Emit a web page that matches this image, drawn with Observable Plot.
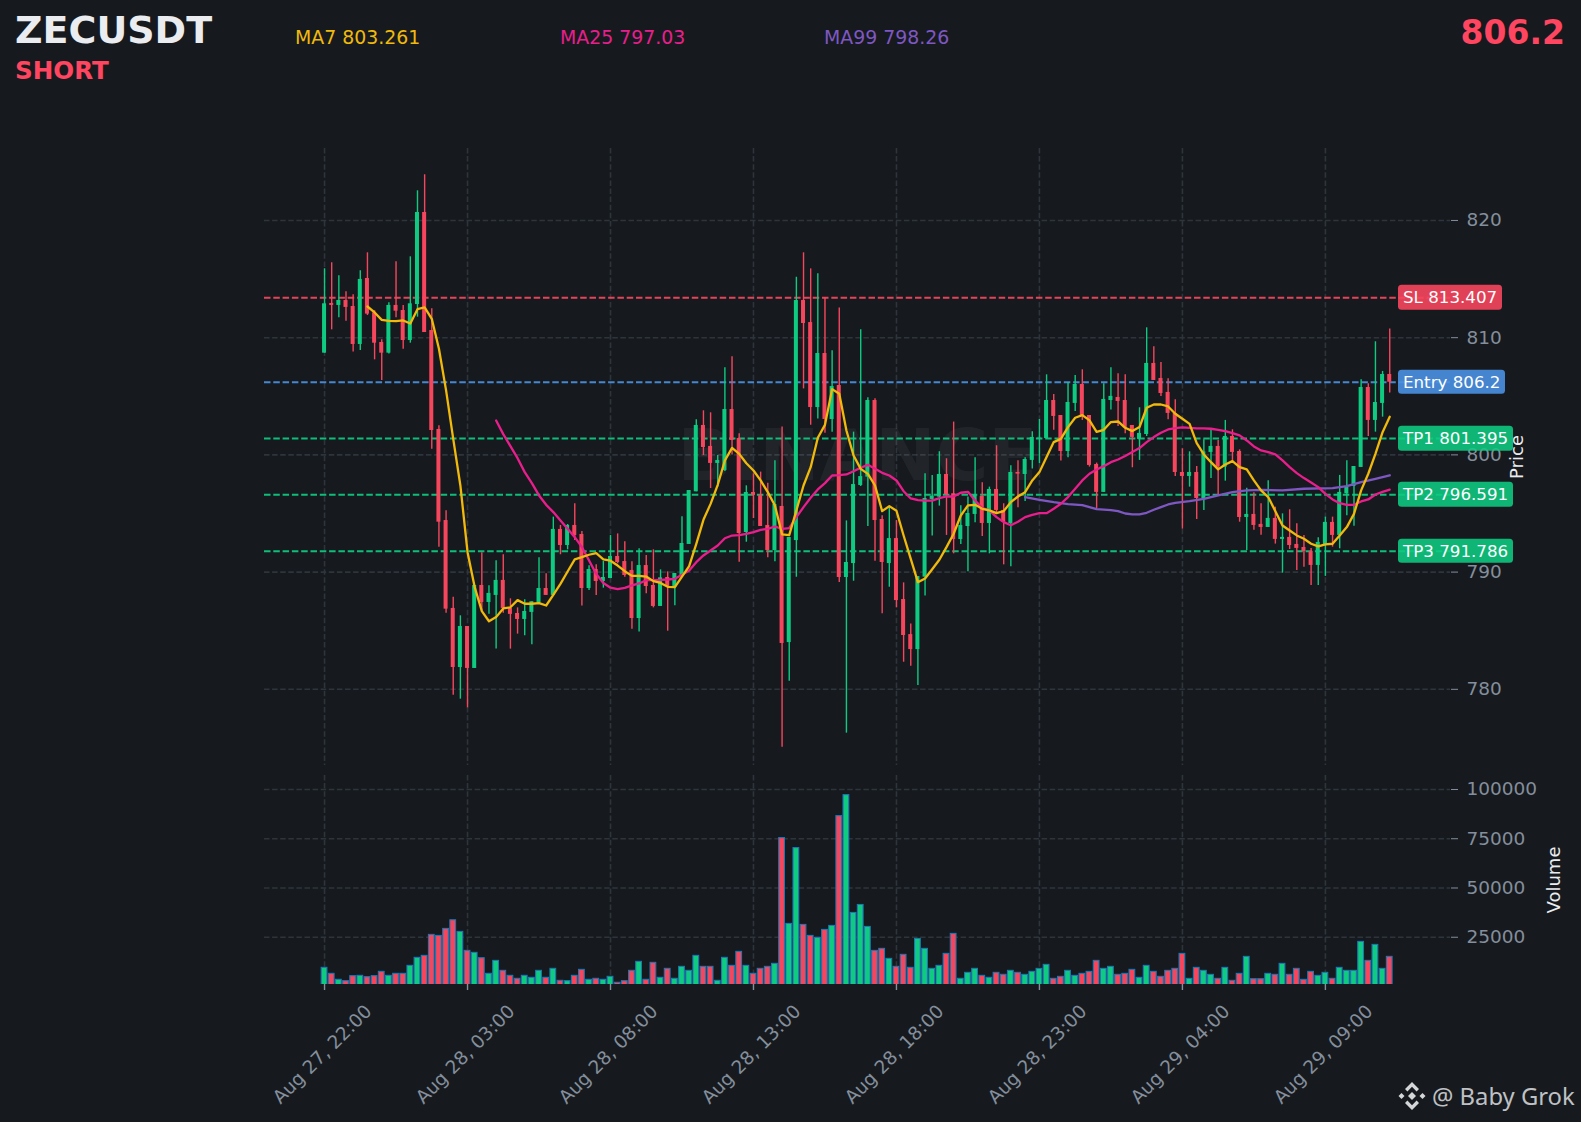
<!DOCTYPE html>
<html>
<head>
<meta charset="utf-8">
<script src="https://cdn.jsdelivr.net/npm/d3@7"></script>
<script src="https://cdn.jsdelivr.net/npm/@observablehq/plot@0.6"></script>
<style>
html,body{margin:0;padding:0;background:#161a1e;width:1581px;height:1122px;overflow:hidden;font-family:"DejaVu Sans",sans-serif}
#stage{position:relative;width:1581px;height:1122px}
#stage svg{position:absolute;left:0}
.t{position:absolute;white-space:nowrap;line-height:1}
.lvl{position:absolute;left:1398px;white-space:nowrap;color:#fff;font-size:16.7px;line-height:24.5px;height:24.5px;padding:0 5px;border-radius:3.5px;transform:translateY(-50%)}
</style>
</head>
<body>
<div id="stage"></div>
<script>
const opens=[808.68,812.92,812.75,813.17,812.66,809.42,815.05,812.12,809.59,808.68,
812.75,812.32,809.76,812.83,820.68,810.61,802.17,794.40,786.90,781.86,
785.36,781.78,788.86,787.41,788.01,789.29,786.90,786.47,785.96,786.56,
787.35,788.60,788.01,793.64,792.27,793.98,793.21,788.60,790.22,789.20,
789.45,791.33,790.90,790.14,786.04,790.56,788.86,787.07,789.54,788.69,
789.71,792.36,796.85,802.51,800.72,799.27,798.67,803.87,801.40,793.38,
796.79,796.54,793.98,791.84,795.60,783.99,792.69,813.17,811.29,804.04,
808.65,803.02,805.92,789.54,790.73,797.39,798.10,804.64,794.49,790.73,
792.86,787.66,784.67,783.39,789.57,796.20,796.40,798.33,796.68,792.78,
793.89,794.92,796.45,794.15,797.05,795.26,794.15,798.50,798.33,799.53,
801.45,801.40,804.64,803.36,800.29,804.39,806.01,803.36,799.18,796.80,
804.64,804.90,804.64,802.51,801.32,801.74,807.80,806.52,805.33,803.54,
798.50,798.16,798.50,796.28,800.21,800.72,798.96,801.57,800.29,794.66,
794.92,794.07,793.81,794.58,792.79,792.96,792.36,792.10,791.76,790.57,
792.36,794.24,793.13,796.68,797.31,798.93,805.75,802.94,804.39,806.86];
const closes=[812.89,812.75,813.17,812.58,809.42,814.97,812.01,809.53,808.68,812.75,
812.26,809.76,812.89,820.68,810.44,802.08,794.26,786.84,781.86,785.36,
781.78,788.86,787.41,788.18,789.29,786.90,786.39,785.96,786.64,787.47,
788.60,788.01,793.64,792.27,793.98,793.12,788.60,790.22,789.20,789.54,
791.33,790.82,789.71,786.04,790.56,788.77,787.07,789.51,788.77,789.88,
792.44,796.96,802.51,800.63,799.27,799.52,803.87,801.23,793.29,796.79,
796.54,793.89,791.84,795.77,783.91,792.95,813.17,811.21,804.04,808.65,
803.02,805.83,789.54,790.82,797.47,798.15,804.64,794.40,790.82,792.86,
787.57,784.59,783.39,789.62,796.28,796.48,798.33,796.62,792.78,793.98,
795.00,796.54,794.15,797.05,795.26,794.24,798.50,798.36,799.61,801.49,
801.49,804.64,803.28,800.29,804.47,806.01,803.36,799.10,796.80,804.73,
804.99,804.56,802.31,801.49,801.83,807.80,806.35,805.24,803.54,798.50,
798.16,798.50,796.28,800.26,800.72,798.96,801.57,800.21,794.66,794.92,
793.98,793.81,794.58,792.79,792.96,792.27,792.02,791.76,790.57,792.53,
794.24,793.13,796.80,797.25,799.01,805.75,802.94,804.47,806.86,806.20];
const highs=[815.88,816.39,815.28,813.91,813.66,815.71,817.24,812.30,809.82,812.98,
816.47,812.75,816.90,822.53,823.90,812.46,802.48,795.23,787.86,786.27,
785.36,788.86,791.65,788.83,790.96,791.48,787.72,786.95,787.64,787.47,
791.22,789.85,794.69,793.98,794.06,795.83,793.47,790.54,790.62,790.91,
793.12,793.26,792.58,790.88,791.99,791.42,791.90,790.19,790.02,789.88,
794.72,796.96,802.99,803.76,803.59,799.95,807.43,808.37,801.80,797.36,
798.38,798.53,797.59,799.49,802.37,792.95,815.16,817.24,815.87,815.45,
813.40,808.88,812.54,794.37,801.94,810.67,804.87,804.78,794.80,795.54,
794.40,789.08,785.58,789.62,798.39,798.25,800.27,799.67,802.80,795.66,
796.40,799.75,797.62,797.25,800.78,795.83,799.07,799.50,799.75,801.97,
803.02,806.83,805.16,803.36,806.18,806.78,807.26,803.36,799.30,806.07,
807.43,806.92,806.83,802.51,804.02,810.84,809.22,807.89,806.49,804.70,
800.52,800.26,799.01,801.29,802.14,801.23,802.94,802.14,800.43,797.16,
796.77,795.83,797.79,795.54,794.97,795.32,794.12,793.13,792.02,792.93,
794.69,794.69,798.25,799.50,799.01,806.41,806.07,809.65,807.12,810.75];
const lows=[808.68,810.67,811.70,811.41,808.77,808.91,811.89,808.11,806.35,808.60,
811.70,809.02,809.53,811.75,810.44,800.49,792.13,786.50,779.50,779.16,
778.42,781.78,786.73,786.41,783.43,786.50,783.43,784.71,784.56,783.80,
787.35,788.01,788.01,791.48,791.90,792.70,787.10,788.43,788.01,788.63,
789.45,790.71,789.57,785.13,784.90,788.15,786.95,787.07,784.96,787.12,
789.71,792.36,796.85,799.95,797.13,797.25,798.58,800.00,790.85,792.55,
794.57,793.89,791.22,790.88,775.06,780.69,789.57,805.63,802.53,803.07,
801.85,801.94,789.11,776.26,789.22,797.30,793.90,790.93,786.44,788.71,
786.95,782.31,781.97,780.32,787.97,793.07,795.63,793.13,791.56,792.36,
790.03,794.21,793.04,791.56,794.92,790.62,790.45,795.49,796.03,798.79,
799.24,801.40,802.11,799.47,799.75,803.71,802.94,798.96,795.43,796.80,
803.82,802.43,801.80,798.90,799.53,801.57,806.35,804.99,803.00,798.16,
793.67,797.25,794.49,795.26,797.99,796.54,797.76,799.38,794.26,791.85,
793.58,793.15,793.81,792.39,789.91,791.93,790.14,790.42,788.86,788.86,
789.63,792.13,791.99,794.80,793.92,798.93,801.57,801.94,803.22,805.29];
const volumes=[9460,6420,3380,2700,5240,5400,4730,5240,7430,5400,
6420,6420,10470,14530,15540,26180,25670,29220,33610,27700,
18070,17060,14360,6420,13000,7940,5400,3880,5400,4390,
7940,4390,8950,2870,2700,5400,8440,3380,3880,3380,
4900,1860,2700,7940,12500,3380,11990,4390,8950,3880,
9960,7940,15540,9960,9960,2870,14530,10470,17570,10470,
6420,8950,9960,11490,75330,31750,70260,31250,25670,24660,
28710,30740,86480,97120,37330,41380,30230,18070,19090,14020,
9960,16050,9460,24150,19090,8950,10470,16550,26690,3880,
6920,8950,5400,4390,6920,5910,7940,6920,5900,7420,
8940,10970,3870,4890,7930,5390,6410,7420,13000,8940,
9960,5900,6410,8440,4380,10460,7420,4890,7930,8940,
16550,3870,9450,7930,5900,3870,9450,2860,6410,15030,
3700,3700,6410,5900,11480,5900,8940,3370,7420,5390,
6920,3870,9450,7930,7930,22630,13000,21110,8940,15030];
const ma7Values=[812.66,812.15,811.52,811.44,811.41,811.47,811.21,812.43,812.58,811.61,
809.05,805.50,801.37,797.39,791.70,788.72,786.67,785.81,786.16,786.90,
787.00,787.61,787.30,787.30,787.35,787.15,788.06,789.00,790.05,791.08,
791.28,791.48,791.62,791.08,790.97,790.56,790.08,789.68,789.68,789.62,
789.23,789.08,788.74,788.71,789.62,790.51,792.41,794.46,795.82,797.45,
799.52,800.60,800.09,799.29,798.67,797.82,796.82,795.68,793.21,793.15,
795.26,797.39,798.95,801.46,802.56,805.61,805.21,802.08,799.95,798.81,
798.38,797.39,795.20,795.63,795.23,793.12,791.13,789.14,789.45,790.24,
791.05,792.13,793.27,794.83,795.69,795.74,795.40,795.26,795.03,795.20,
795.97,796.45,796.82,797.82,798.53,799.81,801.09,801.37,802.37,803.17,
803.39,802.94,801.97,802.14,802.80,802.85,802.31,802.03,802.37,804.02,
804.30,804.30,804.13,803.51,803.08,802.65,801.00,800.04,799.38,798.76,
799.18,799.47,798.96,798.76,797.82,796.97,796.40,795.20,793.98,793.55,
793.13,792.84,792.42,792.19,792.36,792.42,793.13,793.84,794.97,796.97,
798.39,800.09,801.94,803.26];
const ma25Values=[802.94,801.77,800.75,799.72,798.53,797.59,796.54,795.74,795.12,794.40,
793.69,792.98,792.13,790.99,789.85,789.07,788.67,788.54,788.66,788.86,
789.03,789.31,789.31,789.34,789.37,789.43,789.77,790.14,790.85,791.42,
791.84,792.27,792.89,793.12,793.15,793.26,793.41,793.61,793.69,793.89,
793.69,793.75,794.69,795.54,796.34,797.05,797.59,798.24,798.27,798.33,
798.61,798.90,799.15,798.81,798.47,798.24,797.82,796.90,796.28,796.14,
796.10,796.10,796.31,796.45,796.45,796.77,796.85,796.11,795.46,795.26,
794.69,794.26,794.00,794.29,794.69,794.89,795.03,795.03,795.40,795.83,
796.40,797.11,797.82,798.39,798.76,799.04,799.38,799.61,799.90,800.24,
800.58,801.09,801.52,801.89,802.17,802.28,802.34,802.31,802.26,802.26,
802.23,802.14,802.03,801.86,801.66,801.23,800.72,800.38,800.24,800.04,
799.53,798.96,798.44,798.02,797.65,797.25,796.68,796.20,795.88,795.74,
795.74,796.03,796.20,796.62,796.85,797.03];
const ma99Index=[98,100,102,104,106,108,110,111,112,113,114,115,116,117,118,119,121,123,125,127,129,131,134,137,141,143,145,147,149];
const ma99Values=[796.40,796.17,795.97,795.80,795.71,795.37,795.29,795.20,795.00,794.92,794.92,795.06,795.32,795.54,795.77,795.91,796.05,796.25,796.54,796.82,796.97,797.02,796.97,797.11,797.17,797.34,797.68,797.96,798.26];
const priceTicks=[780,790,800,810,820];
const volumeTicks=[25000,50000,75000,100000];
const timeTicks=[0,20,40,60,80,100,120,140];
const timeLabels=["Aug 27, 22:00","Aug 28, 03:00","Aug 28, 08:00","Aug 28, 13:00","Aug 28, 18:00","Aug 28, 23:00","Aug 29, 04:00","Aug 29, 09:00"];
const levelNames=["SL","Entry","TP1","TP2","TP3"];
const levelValues=[813.407,806.2,801.395,796.591,791.786];
const levelLine=["#f6465d","#4a90e2","#0ecb81","#0ecb81","#0ecb81"];
const levelBox=["rgba(246,70,93,.9)","rgba(74,144,226,.9)","rgba(14,203,129,.88)","rgba(14,203,129,.88)","rgba(14,203,129,.88)"];
const header=[["MA7 803.261",295,"#f0b90b"],["MA25 797.03",560,"#e91e8c"],["MA99 798.26",824,"#7e57c2"]];

const GREEN="#0ecb81",RED="#f6465d",GRID="#2e343c",TICK="#848e9c",LABEL="#eaecef";
const rows=d3.range(opens.length).map(i=>({i,o:opens[i],h:highs[i],l:lows[i],c:closes[i],v:volumes[i]}));
const col=d=>d.c>=d.o?GREEN:RED;
const ma7=ma7Values.map((v,k)=>({i:k+6,v}));
const ma25=ma25Values.map((v,k)=>({i:k+24,v}));
const ma99=ma99Values.map((v,k)=>({i:ma99Index[k],v}));
const levels=levelNames.map((n,k)=>({n,v:levelValues[k],s:levelLine[k]}));
const xDomain=[-8.4,157.5];
const gridStyle={stroke:GRID,strokeOpacity:1,strokeWidth:1.6,strokeDasharray:"5.5,2.6"};
const svgStyle={background:"transparent",fontFamily:"DejaVu Sans",overflow:"visible"};
const tickFont=18.5;

const price=Plot.plot({
  width:1581,height:770,marginTop:148,marginBottom:5,marginLeft:264,marginRight:131,
  style:svgStyle,
  x:{domain:xDomain,axis:null},
  y:{domain:[773.5,826.14]},
  color:{type:"identity"},
  marks:[
    Plot.gridX(timeTicks,gridStyle),
    Plot.gridY(priceTicks,gridStyle),
    Plot.text(["BINANCE"],{text:d=>d,frameAnchor:"middle",fontSize:72,fontWeight:"bold",fill:"#fff",fillOpacity:.05}),
    Plot.ruleY(levels,{y:"v",stroke:"s",strokeWidth:2,strokeOpacity:.92,strokeDasharray:"6.5,2.8"}),
    Plot.ruleX(rows,{x:"i",y1:"l",y2:"h",stroke:col,strokeWidth:1.4}),
    Plot.rect(rows,{x1:d=>d.i-.28,x2:d=>d.i+.28,y1:"o",y2:"c",fill:col}),
    Plot.line(ma99,{x:"i",y:"v",stroke:"#7e57c2",strokeWidth:2.3}),
    Plot.line(ma25,{x:"i",y:"v",stroke:"#e91e8c",strokeWidth:2.3}),
    Plot.line(ma7,{x:"i",y:"v",stroke:"#f0b90b",strokeWidth:2.3}),
    Plot.axisY(priceTicks,{anchor:"right",tickSize:7,tickPadding:9,stroke:TICK,fill:TICK,fontSize:tickFont,label:null}),
    Plot.text(["Price"],{text:d=>d,frameAnchor:"right",dx:67,rotate:-90,textAnchor:"middle",fontSize:18,fill:LABEL})
  ]
});
price.style.top="0px";

const volume=Plot.plot({
  width:1581,height:352,marginTop:5,marginBottom:138,marginLeft:264,marginRight:131,
  style:svgStyle,
  x:{domain:xDomain},
  y:{domain:[1014,107100]},
  color:{type:"identity"},
  marks:[
    Plot.gridX(timeTicks,gridStyle),
    Plot.gridY(volumeTicks,gridStyle),
    Plot.rect(rows,{x1:d=>d.i-.4,x2:d=>d.i+.4,y1:0,y2:"v",fill:col,stroke:"#1f77b4",strokeWidth:1.1,clip:"frame"}),
    Plot.axisY(volumeTicks,{anchor:"right",tickSize:7,tickPadding:9,stroke:TICK,fill:TICK,fontSize:tickFont,tickFormat:d=>String(d),label:null}),
    Plot.axisX(timeTicks,{anchor:"bottom",tickSize:6,stroke:TICK,strokeWidth:1.4,fill:"none",label:null}),
    Plot.axisX(timeTicks,{anchor:"bottom",tickSize:6,tickPadding:64,tickRotate:-45,textAnchor:"middle",lineAnchor:"middle",dx:-2,tickFormat:d=>timeLabels[timeTicks.indexOf(d)],stroke:"none",fill:TICK,fontSize:tickFont,label:null}),
    Plot.text(["Volume"],{text:d=>d,frameAnchor:"right",dx:104,rotate:-90,textAnchor:"middle",fontSize:18,fill:LABEL})
  ]
});
volume.style.top="770px";

const stage=document.getElementById("stage");
stage.append(price,volume);
function addText(txt,css){const e=document.createElement("div");e.className="t";e.textContent=txt;Object.assign(e.style,css);stage.append(e);return e;}
addText("ZECUSDT",{left:"15px",top:"11px",fontSize:"38px",fontWeight:"bold",color:LABEL});
addText("SHORT",{left:"15px",top:"59px",fontSize:"24.6px",fontWeight:"bold",color:"#ff4560"});
addText("806.2",{right:"16px",top:"16px",fontSize:"33px",fontWeight:"bold",color:"#ff4560"});
header.forEach(([t,x,c])=>addText(t,{left:x+"px",top:"27.5px",fontSize:"18.9px",color:c}));
levelNames.forEach((n,k)=>{
  const e=document.createElement("div");e.className="lvl";
  e.textContent=n+" "+levelValues[k];
  e.style.top=price.scale("y").apply(levelValues[k])+"px";
  e.style.background=levelBox[k];
  stage.append(e);
});
addText("@ Baby Grok",{left:"1432px",top:"1085px",fontSize:"23.8px",fontFamily:"Noto Sans",color:"#bfc1c4"});
const ns="http://www.w3.org/2000/svg";
const logo=document.createElementNS(ns,"svg");
logo.setAttribute("viewBox","0 0 28 28");logo.setAttribute("width","28");logo.setAttribute("height","28");
logo.style.cssText="left:1398px;top:1082px";
logo.innerHTML='<g fill="#d4d6d8"><path d="M14 0L21 7 18.6 9.4 14 4.8 9.4 9.4 7 7Z"/><path d="M14 28L21 21 18.6 18.6 14 23.2 9.4 18.6 7 21Z"/><path d="M14 10L18 14 14 18 10 14Z"/><path d="M3.5 11L6.5 14 3.5 17 .5 14Z"/><path d="M24.5 11L27.5 14 24.5 17 21.5 14Z"/></g>';
stage.append(logo);
</script>
</body>
</html>
